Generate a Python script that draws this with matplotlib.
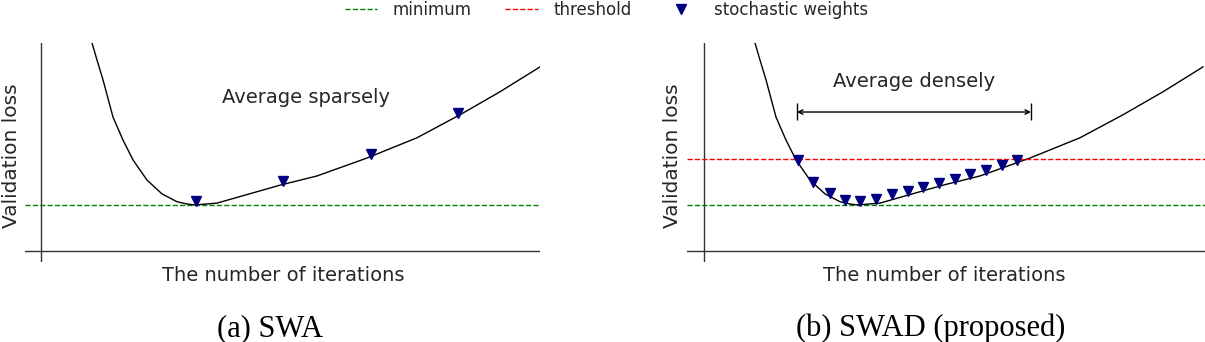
import matplotlib.pyplot as plt
from matplotlib.lines import Line2D

# loss curve (iterations, validation loss)
iters = [10.2, 11.2, 12.4, 14.4, 16.4, 18.4, 21.2, 24.2, 27.2, 29.2, 30.8, 35.2, 47.8, 55.2,
         65.2, 75.2, 83.8, 91.8, 99.8]
loss = [4.52, 4.15, 3.72, 2.91, 2.41, 1.98, 1.54, 1.24, 1.07, 1.02, 1.00, 1.04, 1.43, 1.63,
        2.02, 2.46, 2.96, 3.46, 4.00]

min_loss = 1.0
threshold = 2.0

# SWA: sparse stochastic weights
swa_iters = [31.0, 48.4, 66.0, 83.4]
swa_loss = [1.09, 1.52, 2.11, 3.00]

# SWAD: dense stochastic weights
swad_iters = [18.8, 21.8, 25.2, 28.2, 31.2, 34.4, 37.6, 40.8, 43.8, 47.0, 50.2, 53.2, 56.4, 59.6, 62.6]
swad_loss = [1.98, 1.50, 1.26, 1.11, 1.09, 1.13, 1.24, 1.30, 1.39, 1.48, 1.57, 1.67, 1.76, 1.87, 1.98]

dense_range = [18.6, 65.4]

W, H = 1205, 342
txt = '#262626'
fig = plt.figure(figsize=(W / 100, H / 100), dpi=100)


def make_axes(x0, x1, xlim):
    ax = fig.add_axes([x0 / W, (H - 262) / H, (x1 - x0) / W, 219 / H])
    ax.set_xlim(*xlim)
    ax.set_ylim(-0.24, 4.52)
    ax.axis('off')
    ax.axvline(0, color='#333333', lw=1)
    ax.axhline(0, color='#333333', lw=1)
    ax.axhline(min_loss, color='green', ls='--', lw=1)
    ax.plot(iters, loss, color='black', lw=1)
    return ax


ax1 = make_axes(25, 540, (-3.2, 99.8))
ax1.plot(swa_iters, swa_loss, 'v', color='navy', ms=7, ls='none')
ax1.text(53, 3.22, 'Average sparsely', ha='center', va='baseline', fontsize=14, color=txt)

ax2 = make_axes(687, 1205, (-3.4, 100.2))
ax2.axhline(threshold, color='red', ls='--', lw=1)
ax2.plot(swad_iters, swad_loss, 'v', color='navy', ms=7, ls='none')
ax2.annotate('', xy=(dense_range[0], 3.02), xytext=(dense_range[1], 3.02),
             arrowprops=dict(arrowstyle='<->', color='black', lw=1, shrinkA=0, shrinkB=0,
                             mutation_scale=8))
ax2.vlines(dense_range, 2.85, 3.22, color='black', lw=1)
ax2.text(42, 3.57, 'Average densely', ha='center', va='baseline', fontsize=14, color=txt)

for ax, yx, xx in [(ax1, 12, 283), (ax2, 673, 944)]:
    fig.text(yx / W, 1 - 156 / H, 'Validation loss', rotation=90, ha='center', va='center',
             fontsize=14.5, color=txt)
    fig.text(xx / W, 1 - 281 / H, 'The number of iterations', ha='center', va='baseline',
             fontsize=14, color=txt)

fig.text(270 / W, 1 - 336 / H, '(a) SWA', ha='center', va='baseline', fontsize=22,
         family='Liberation Serif', color='black')
fig.text(931 / W, 1 - 336 / H, '(b) SWAD (proposed)', ha='center', va='baseline', fontsize=22,
         family='Liberation Serif', color='black')

handles = [Line2D([], [], color='green', ls='--', lw=1),
           Line2D([], [], color='red', ls='--', lw=1),
           Line2D([], [], color='navy', marker='v', ls='none', ms=7)]
leg = fig.legend(handles, ['minimum', 'threshold', 'stochastic weights'], ncol=3,
                 loc='center', bbox_to_anchor=(0.503, 1 - 10 / H), frameon=False,
                 fontsize=12, handlelength=1.95, handletextpad=0.95, columnspacing=2.0,
                 numpoints=1, borderpad=0)
for t in leg.get_texts():
    t.set_color(txt)

fig.savefig('out.png', dpi=100)
